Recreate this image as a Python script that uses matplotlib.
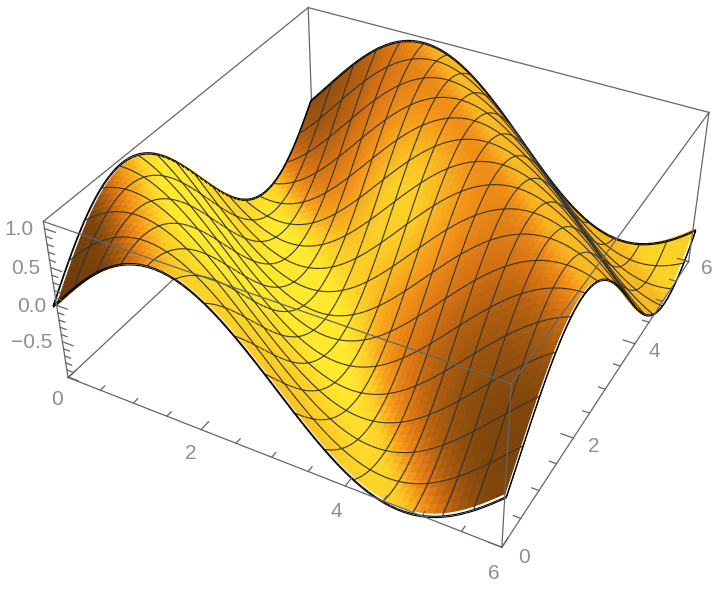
import numpy as np
import matplotlib
matplotlib.use("Agg")
import matplotlib.pyplot as plt
from matplotlib.text import Text
from matplotlib.colors import LinearSegmentedColormap
from mpl_toolkits.mplot3d.art3d import Poly3DCollection

# Plot3D[Sin[x + y], {x, 0, 6}, {y, 0, 6}]
x_min, x_max = 0.0, 6.0
y_min, y_max = 0.0, 6.0
z_min, z_max = -1.01, 1.09
n_mesh = 15
n_sub = 4

x_ticks = [0, 2, 4, 6]
y_ticks = [0, 2, 4, 6]
z_ticks = [-0.5, 0.0, 0.5, 1.0]
z_labels = ["\u22120.5", "0.0", "0.5", "1.0"]


def surface(x, y):
    return np.sin(x + y)


N = (n_mesh + 1) * n_sub
xs = np.linspace(x_min, x_max, N + 1)
ys = np.linspace(y_min, y_max, N + 1)
X, Y = np.meshgrid(xs, ys, indexing="ij")
Z = surface(X, Y)

# box scaling (BoxRatios 1:1:0.4)
sx = 1 / (x_max - x_min)
sy = 1 / (y_max - y_min)
sz = 0.4 / (z_max - z_min)

elev, azim = 36.2, -61.56
S = 500
zoom = 0.843 * 800 / S
e, a = np.radians(elev), np.radians(azim)
w = np.array([np.cos(e) * np.cos(a), np.cos(e) * np.sin(a), np.sin(e)])
u = np.cross([0, 0, 1], w)
u /= np.linalg.norm(u)
v = np.cross(w, u)

# normals per cell in scaled coords
dx = xs[1] - xs[0]
dy = ys[1] - ys[0]
dzdx = ((Z[1:, 1:] + Z[1:, :-1]) - (Z[:-1, 1:] + Z[:-1, :-1])) / (2 * dx)
dzdy = ((Z[1:, 1:] + Z[:-1, 1:]) - (Z[1:, :-1] + Z[:-1, :-1])) / (2 * dy)
nrm = np.stack([-dzdx * sz / sx, -dzdy * sz / sy, np.ones_like(dzdx)], axis=-1)
nrm /= np.linalg.norm(nrm, axis=-1, keepdims=True)
nrm[nrm @ w < 0] *= -1

Zc = (Z[1:, 1:] + Z[1:, :-1] + Z[:-1, 1:] + Z[:-1, :-1]) / 4
cen = np.stack([((X[1:, 1:] + X[:-1, :-1]) / 2 - x_min) * sx,
                ((Y[1:, 1:] + Y[:-1, :-1]) / 2 - y_min) * sy,
                (Zc - z_min) * sz], axis=-1)

# one light from upper right, one small lamp hanging over the middle
Ld = 0.55 * u + 0.6 * v + 0.55 * w
Ld /= np.linalg.norm(Ld)
diff = np.clip(nrm @ Ld, 0, None)
lamp = np.array([0.27, 0.42, 0.37])
Lp = lamp - cen
Lp /= np.linalg.norm(Lp, axis=-1, keepdims=True)
pt = np.clip(np.sum(nrm * Lp, axis=-1), 0, None) ** 2
t = np.clip(0.62 * diff + 0.7 * pt + 0.08, 0, 1)

cmap = LinearSegmentedColormap.from_list("mma", [
    (0.0, (100 / 255, 54 / 255, 8 / 255)),
    (0.2, (128 / 255, 70 / 255, 12 / 255)),
    (0.4, (215 / 255, 115 / 255, 20 / 255)),
    (0.55, (245 / 255, 150 / 255, 25 / 255)),
    (0.75, (252 / 255, 205 / 255, 38 / 255)),
    (1.0, (255 / 255, 232 / 255, 45 / 255)),
])

P3 = np.stack([X, Y, Z], axis=-1)
quads = np.stack([P3[:-1, :-1], P3[1:, :-1], P3[1:, 1:], P3[:-1, 1:]], axis=2).reshape(-1, 4, 3)
fc_quads = cmap(t).reshape(-1, 4)

# mesh lines and boundary as flat quads, pulled a little toward the eye
off = 0.035 * np.array([w[0] / sx, w[1] / sy, w[2] / sz])
segs, seg_ec = [], []
mesh_idx = list(range(n_sub, N, n_sub))
for idx, col in [(mesh_idx, (0.2, 0.2, 0.2, 1)), ([0, N], (0, 0, 0, 1))]:
    for i in idx:
        for (p0, p1) in [(P3[i, :-1], P3[i, 1:]), (P3[:-1, i], P3[1:, i])]:
            q0, q1 = p0 + off, p1 + off
            segs.append(np.stack([q0, q1, q1, q0], axis=1))
            seg_ec += [col] * len(q0)
            if col[0] == 0:
                d = np.array([0, 0, -0.018])
                segs.append(np.stack([q0 + d, q1 + d, q1 + d, q0 + d], axis=1))
                seg_ec += [col] * len(q0)
segs = np.concatenate(segs)

verts = np.concatenate([quads, segs])
fc = np.concatenate([fc_quads, np.zeros((len(segs), 4))])
ec = np.concatenate([fc_quads, np.array(seg_ec)])

W, H = 722, 590
cx, cy = 386, 250
fig = plt.figure(figsize=(W / 100, H / 100), dpi=100)
ax = fig.add_axes([(cx - S / 2) / W, 1 - (cy + S / 2) / H, S / W, S / H],
                  projection="3d", proj_type="persp", focal_length=0.4388 * zoom)
ax.computed_zorder = False
ax.set_xlim(x_min, x_max)
ax.set_ylim(y_min, y_max)
ax.set_zlim(z_min, z_max)
ax.set_box_aspect((1, 1, 0.4), zoom=zoom)
ax.view_init(elev=elev, azim=azim)
ax.set_xticks([])
ax.set_yticks([])
ax.set_zticks([])
ax.set_axis_off()

coll = Poly3DCollection(verts, facecolors=fc, edgecolors=ec, linewidths=0.8)
coll.set_zorder(2)
coll.set_clip_on(False)
ax.add_collection3d(coll)

box_col = "#666666"
x0, x1, y0, y1, z0, z1 = x_min, x_max, y_min, y_max, z_min, z_max
back_edges = [((x0, y1, z0), (x0, y1, z1)), ((x0, y0, z0), (x0, y1, z0)),
              ((x0, y1, z0), (x1, y1, z0))]
front_edges = [((x0, y0, z0), (x1, y0, z0)), ((x1, y0, z0), (x1, y1, z0)),
               ((x0, y0, z0), (x0, y0, z1)), ((x1, y0, z0), (x1, y0, z1)),
               ((x1, y1, z0), (x1, y1, z1)), ((x0, y0, z1), (x1, y0, z1)),
               ((x1, y0, z1), (x1, y1, z1)), ((x1, y1, z1), (x0, y1, z1)),
               ((x0, y1, z1), (x0, y0, z1))]
line_kw = dict(color=box_col, lw=0.9, clip_on=False)
for edges, zo in [(back_edges, 1), (front_edges, 3)]:
    for p, q in edges:
        ax.plot([p[0], q[0]], [p[1], q[1]], [p[2], q[2]], zorder=zo, **line_kw)

# ticks
for xv in np.arange(0, 6.01, 0.5):
    ln = 0.16 if xv in x_ticks else 0.09
    ax.plot([xv, xv], [y0, y0 + ln], [z0, z0], zorder=3, **line_kw)
for yv in np.arange(0, 6.01, 0.5):
    ln = 0.16 if yv in y_ticks else 0.09
    ax.plot([x1, x1 - ln], [yv, yv], [z0, z0], zorder=3, **line_kw)
for zv in np.arange(-1.0, 1.001, 0.1):
    major = np.isclose(zv * 2, round(zv * 2))
    ln = 0.16 if major else 0.09
    ax.plot([x0, x0 + ln], [y0, y0], [zv, zv], zorder=3, **line_kw)

# hide the empty axis/title texts of the 3d axes
for txt in fig.findobj(Text):
    if txt.get_text() == "":
        txt.set_visible(False)

lab = dict(fontsize=15, color="#8f8f8f", family="Liberation Sans", zorder=4, clip_on=False)
for xv in x_ticks:
    ax.text(xv + 0.05, y0 - 0.3, z0 - 0.1, str(xv), ha="center", va="center", **lab)
for yv in y_ticks:
    ax.text(x1 + 0.27, yv, z0 - 0.02, str(yv), ha="center", va="center", **lab)
for zv, s in zip(z_ticks, z_labels):
    ax.text(x0 - 0.1, y0 - 0.07, zv, s, ha="right", va="center", **lab)

fig.savefig("out.png", dpi=100)
